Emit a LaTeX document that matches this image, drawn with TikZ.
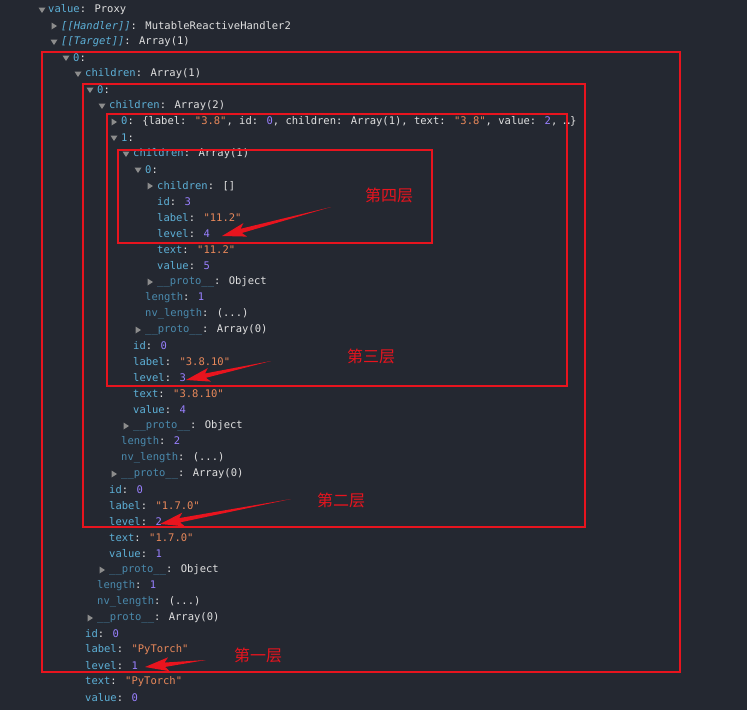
\documentclass[tikz,border=0pt]{standalone}
\usepackage{fontspec}
\usetikzlibrary{arrows.meta,calc}
\newfontfamily\mono{DejaVu Sans Mono}
\newfontfamily\cjk{Noto Sans CJK SC}
\definecolor{bg}{HTML}{242831}
\definecolor{keyc}{HTML}{5DB0D7}
\definecolor{dimk}{HTML}{4A8AAD}
\definecolor{txt}{HTML}{E0E0E0}
\definecolor{strc}{HTML}{E8885A}
\definecolor{numc}{HTML}{9980FF}
\definecolor{tri}{HTML}{8C8C8C}
\definecolor{redc}{HTML}{E8141E}
\newcommand\Kk[1]{\textcolor{keyc}{#1}}
\newcommand\Kd[1]{\textcolor{dimk}{#1}}
\newcommand\Sv[1]{\textcolor{strc}{"#1"}}
\newcommand\Nv[1]{\textcolor{numc}{#1}}
\begin{document}
\begin{tikzpicture}[x=1pt,y=-1pt,
  ln/.style={anchor=west,inner sep=0pt,font=\mono\fontsize{10.5}{13}\selectfont,text=txt},
  box/.style={draw=redc,line width=1.6pt},
  lab/.style={font=\cjk\fontsize{16}{18}\selectfont,text=redc},
]
\fill[bg] (0,0) rectangle (747,710);
\useasboundingbox (0,0) rectangle (747,710);
\newcommand\Dn[2]{\fill[tri] (#1-3.5,#2-2.5)--(#1+3.5,#2-2.5)--(#1,#2+3)--cycle;}
\newcommand\Rt[2]{\fill[tri] (#1-2.5,#2-3.5)--(#1-2.5,#2+3.5)--(#1+3,#2)--cycle;}
\newcommand\Tarr[2]{\fill[redc]
  (#1) -- ($(#2)!20pt!(#1)!2.2pt!90:(#2)$) -- ($(#2)!24pt!(#1)!7pt!90:(#2)$) -- (#2)
  -- ($(#2)!24pt!(#1)!7pt!-90:(#2)$) -- ($(#2)!20pt!(#1)!2.2pt!-90:(#2)$) -- cycle;}
\Dn{42}{10}\node[ln] (l1) at (48,10) {\Kk{value}: Proxy};
\Rt{54}{26}\node[ln] (l2) at (61,26) {\Kk{\itshape [[Handler]]}: MutableReactiveHandler2};
\Dn{54}{42}\node[ln] (l3) at (61,42) {\Kk{\itshape [[Target]]}: Array(1)};
\Dn{66}{58}\node[ln] (l4) at (73,58) {\Kk{0}:};
\Dn{78}{74}\node[ln] (l5) at (85,74) {\Kk{children}: Array(1)};
\Dn{90}{90}\node[ln] (l6) at (97,90) {\Kk{0}:};
\Dn{102}{106}\node[ln] (l7) at (109,106) {\Kk{children}: Array(2)};
\Rt{114}{122}\node[ln] (l8) at (121,122) {\Kk{0}: \{label: \Sv{3.8}, id: \Nv{0}, children: Array(1), text: \Sv{3.8}, value: \Nv{2}, …\}};
\Dn{114}{138}\node[ln] (l9) at (121,138) {\Kk{1}:};
\Dn{126}{154}\node[ln] (l10) at (133,154) {\Kk{children}: Array(1)};
\Dn{138}{170}\node[ln] (l11) at (145,170) {\Kk{0}:};
\Rt{150}{186}\node[ln] (l12) at (157,186) {\Kk{children}: []};
\node[ln] (l13) at (157,202) {\Kk{id}: \Nv{3}};
\node[ln] (l14) at (157,218) {\Kk{label}: \Sv{11.2}};
\node[ln] (l15) at (157,234) {\Kk{level}: \Nv{4}};
\node[ln] (l16) at (157,250) {\Kk{text}: \Sv{11.2}};
\node[ln] (l17) at (157,266) {\Kk{value}: \Nv{5}};
\Rt{150}{282}\node[ln] (l18) at (157,282) {\Kd{\_\_proto\_\_}: Object};
\node[ln] (l19) at (145,298) {\Kd{length}: \Nv{1}};
\node[ln] (l20) at (145,314) {\Kd{nv\_length}: (...)};
\Rt{138}{330}\node[ln] (l21) at (145,330) {\Kd{\_\_proto\_\_}: Array(0)};
\node[ln] (l22) at (133,346) {\Kk{id}: \Nv{0}};
\node[ln] (l23) at (133,362) {\Kk{label}: \Sv{3.8.10}};
\node[ln] (l24) at (133,378) {\Kk{level}: \Nv{3}};
\node[ln] (l25) at (133,394) {\Kk{text}: \Sv{3.8.10}};
\node[ln] (l26) at (133,410) {\Kk{value}: \Nv{4}};
\Rt{126}{426}\node[ln] (l27) at (133,426) {\Kd{\_\_proto\_\_}: Object};
\node[ln] (l28) at (121,442) {\Kd{length}: \Nv{2}};
\node[ln] (l29) at (121,458) {\Kd{nv\_length}: (...)};
\Rt{114}{474}\node[ln] (l30) at (121,474) {\Kd{\_\_proto\_\_}: Array(0)};
\node[ln] (l31) at (109,490) {\Kk{id}: \Nv{0}};
\node[ln] (l32) at (109,506) {\Kk{label}: \Sv{1.7.0}};
\node[ln] (l33) at (109,522) {\Kk{level}: \Nv{2}};
\node[ln] (l34) at (109,538) {\Kk{text}: \Sv{1.7.0}};
\node[ln] (l35) at (109,554) {\Kk{value}: \Nv{1}};
\Rt{102}{570}\node[ln] (l36) at (109,570) {\Kd{\_\_proto\_\_}: Object};
\node[ln] (l37) at (97,586) {\Kd{length}: \Nv{1}};
\node[ln] (l38) at (97,602) {\Kd{nv\_length}: (...)};
\Rt{90}{618}\node[ln] (l39) at (97,618) {\Kd{\_\_proto\_\_}: Array(0)};
\node[ln] (l40) at (85,634) {\Kk{id}: \Nv{0}};
\node[ln] (l41) at (85,650) {\Kk{label}: \Sv{PyTorch}};
\node[ln] (l42) at (85,666) {\Kk{level}: \Nv{1}};
\node[ln] (l43) at (85,682) {\Kk{text}: \Sv{PyTorch}};
\node[ln] (l44) at (85,698) {\Kk{value}: \Nv{0}};
\draw[box] (42,52) rectangle (680,672);
\draw[box] (83,84) rectangle (585,527);
\draw[box] (107,114) rectangle (567,386);
\draw[box] (118,150) rectangle (432,243);
\node[lab] (t4) at (389,195) {第四层};
\node[lab] (t3) at (371,356) {第三层};
\node[lab] (t2) at (341,500) {第二层};
\node[lab] (t1) at (258,655) {第一层};
\coordinate (a4s) at (331,207); \coordinate (a4e) at (222,236);
\coordinate (a3s) at (271,361); \coordinate (a3e) at (186,380);
\coordinate (a2s) at (291,499); \coordinate (a2e) at (160,524);
\coordinate (a1s) at (206,660); \coordinate (a1e) at (145,667);
\Tarr{a4s}{a4e}
\Tarr{a3s}{a3e}
\Tarr{a2s}{a2e}
\Tarr{a1s}{a1e}
\end{tikzpicture}
\end{document}
